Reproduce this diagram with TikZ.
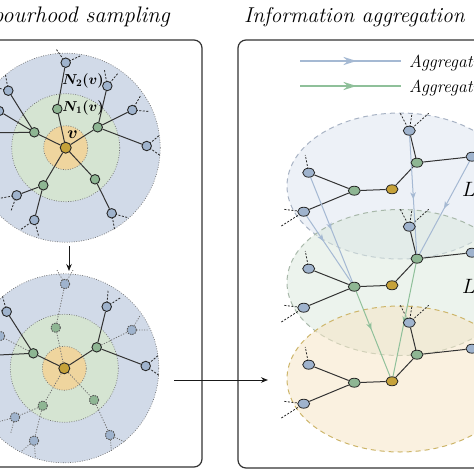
\documentclass[tikz,border=0pt]{standalone}
\usepackage{amsmath}
\usetikzlibrary{shapes.geometric,arrows.meta,decorations.markings}
\definecolor{nblue}{HTML}{9FB3CD}
\definecolor{ngreen}{HTML}{8EB693}
\definecolor{nyel}{HTML}{C6A23A}
\definecolor{discB}{HTML}{D1DAE8}
\definecolor{discG}{HTML}{D5E4D2}
\definecolor{discO}{HTML}{EFD59E}
\definecolor{edgec}{HTML}{333333}
\definecolor{arrB}{HTML}{A5B9D3}
\definecolor{arrG}{HTML}{8FC09A}
\definecolor{lay1}{HTML}{DEE5F0}
\definecolor{lay2}{HTML}{DCE9DE}
\definecolor{lay3}{HTML}{F6E6C6}
\definecolor{lay1b}{HTML}{A8B3C4}
\definecolor{lay2b}{HTML}{A8B8AA}
\definecolor{lay3b}{HTML}{CDB56A}
\pgfdeclarelayer{back}
\pgfdeclarelayer{mid}
\pgfsetlayers{back,mid,main}
\tikzset{
  nd/.style={circle,draw=black!85,line width=0.9pt,inner sep=0pt,minimum size=9.5pt},
  bn/.style={nd,fill=nblue},
  gn/.style={nd,fill=ngreen},
  yn/.style={nd,fill=nyel,minimum size=11pt},
  dbn/.style={bn,draw=black!65,dash pattern=on 1.5pt off 1pt},
  dgn/.style={gn,draw=black!65,dash pattern=on 1.5pt off 1pt},
  en/.style={ellipse,draw=black!85,line width=0.8pt,inner sep=0pt,minimum width=12pt,minimum height=9pt},
  ebn/.style={en,fill=nblue},
  egn/.style={en,fill=ngreen},
  eyn/.style={en,fill=nyel},
  edge/.style={draw=edgec,line width=1pt},
  stub/.style={draw=black!85,line width=0.8pt,dash pattern=on 2pt off 1.5pt},
  gstub/.style={draw=black!55,line width=0.8pt,dash pattern=on 1pt off 1.5pt},
  dedge/.style={draw=black!55,line width=0.8pt,dash pattern=on 1.2pt off 1.5pt},
  ring/.style={draw=black!55,line width=0.7pt,dash pattern=on 0.8pt off 1.6pt},
  panel/.style={draw=black!80,line width=1.2pt,rounded corners=8pt},
  midarr/.style={postaction={decorate,decoration={markings,mark=at position #1 with {\arrow{Stealth[length=7pt,width=5.5pt,inset=2pt]}}}}},
  legarr/.style={postaction={decorate,decoration={markings,mark=at position #1 with {\arrow{Stealth[length=13pt,width=8pt,inset=4pt]}}}}},
  arrline/.style={draw=#1,line width=1pt},
  mainarr/.style={draw=black!90,line width=1pt,-{Stealth[length=7pt,width=5.5pt]}},
  title/.style={font=\fontsize{21.5}{25}\selectfont\itshape,inner sep=0pt},
  legtext/.style={font=\fontsize{17.5}{21}\selectfont\itshape,inner sep=0pt},
  lab/.style={font=\fontsize{14}{16}\selectfont,inner sep=0pt}
}
\begin{document}
\begin{tikzpicture}[x=1pt,y=-1pt]
\useasboundingbox (0,0) rectangle (474,474);

% titles
\node[title,font=\fontsize{22.5}{26}\selectfont\itshape,anchor=base east] (t1) at (170,22) {Neighbourhood sampling};
\node[title,anchor=base west] (t2) at (244,22) {Information aggregation};

\begin{pgfonlayer}{back}
\draw[panel] (-30,40) rectangle (202,467);
\draw[panel] (238,40) rectangle (520,468);
\foreach \cx/\cy in {65.7/147.7, 64.3/368.3}{
  \filldraw[fill=discB,ring] (\cx,\cy) circle[radius=94.5pt];
  \filldraw[fill=discG,ring] (\cx,\cy) circle[radius=54pt];
  \filldraw[fill=discO,ring] (\cx,\cy) circle[radius=22pt];
}
\foreach \cy/\fc/\bc in {186/lay1/lay1b, 282.5/lay2/lay2b, 379/lay3/lay3b}{
  \fill[\fc,fill opacity=0.55] (400,\cy) ellipse[x radius=113pt,y radius=73pt];
  \draw[\bc,line width=1pt,dash pattern=on 5pt off 4pt] (400,\cy) ellipse[x radius=113pt,y radius=73pt];
}
\end{pgfonlayer}

% ---------- top neighbourhood graph ----------
\node[yn] (v1) at (65.7,147.7) {};
\node[gn] (gt) at (57.3,109) {};
\node[gn] (gr) at (97.7,127.3) {};
\node[gn] (gl) at (34.3,132.3) {};
\node[gn] (gll) at (43.3,185.3) {};
\node[gn] (glr) at (95,179.3) {};
\node[bn] (b1) at (65.7,62.7) {};
\node[bn] (b2) at (107.3,86) {};
\node[bn] (b3) at (132.3,110) {};
\node[bn] (b4) at (146.7,146) {};
\node[bn] (b5) at (111.7,213.3) {};
\node[bn] (b6) at (34.3,220) {};
\node[bn] (b7) at (16.7,195.3) {};
\node[bn] (b8) at (8.3,90.7) {};
\node[bn] (b9) at (-1,111) {};
\node[bn] (b10) at (-22,133) {};
\begin{pgfonlayer}{mid}
\draw[edge] (v1)--(gt) (v1)--(gr) (v1)--(gl) (v1)--(gll) (v1)--(glr);
\draw[edge] (gt)--(b1) (gr)--(b2) (gr)--(b3) (gr)--(b4) (glr)--(b5) (gll)--(b6) (gll)--(b7) (gl)--(b8) (gl)--(b9) (gl)--(b10);
\foreach \n/\a/\b in {b1/-125/-25, b2/-100/-50, b3/-60/5, b4/-40/35, b5/15/80, b6/75/145, b7/110/170, b8/-100/-165, b9/-130/180}{
  \draw[stub] (\n.center) -- ++(\a:17) (\n.center) -- ++(\b:17);
}
\end{pgfonlayer}
\node[lab,font=\fontsize{16}{18}\selectfont] (lv) at (72.5,135) {$\boldsymbol{v}$};
\node[lab] (ln1) at (83,108) {$\boldsymbol{N_1(v)}$};
\node[lab] (ln2) at (83,81) {$\boldsymbol{N_2(v)}$};

% ---------- bottom sampled graph ----------
\node[yn] (v2) at (64.3,368.3) {};
\node[gn] (hl) at (33.3,353.3) {};
\node[gn] (hr) at (96.7,347.3) {};
\node[dgn] (ht) at (55.7,327.7) {};
\node[dgn] (hll) at (42.7,405.7) {};
\node[dgn] (hlr) at (94,400) {};
\node[bn] (c1) at (106.7,306.7) {};
\node[bn] (c2) at (145.7,366) {};
\node[bn] (c3) at (6.7,311.7) {};
\node[bn] (c4) at (-22,356) {};
\node[dbn] (d1) at (65,284) {};
\node[dbn] (d2) at (131.7,330) {};
\node[dbn] (d3) at (15,417.3) {};
\node[dbn] (d4) at (34,440.7) {};
\node[dbn] (d5) at (110,435) {};
\node[dbn] (d6) at (0,336) {};
\begin{pgfonlayer}{mid}
\draw[edge] (v2)--(hl) (v2)--(hr) (hr)--(c1) (hr)--(c2) (hl)--(c3) (hl)--(c4);
\draw[dedge] (v2)--(ht) (v2)--(hll) (v2)--(hlr) (ht)--(d1) (hr)--(d2) (hll)--(d3) (hll)--(d4) (hlr)--(d5) (hl)--(d6);
\foreach \n/\a/\b in {c1/-85/-33, c2/-40/35, c3/-105/-165}{
  \draw[stub] (\n.center) -- ++(\a:17) (\n.center) -- ++(\b:17);
}
\foreach \n/\a/\b in {d1/-120/-60, d2/-60/0, d3/105/165, d4/85/140, d5/25/85, d6/-125/180}{
  \draw[gstub] (\n.center) -- ++(\a:17) (\n.center) -- ++(\b:17);
}
\end{pgfonlayer}

% vertical arrow
\coordinate (dA) at (69,246);
\coordinate (dB) at (69,271);
\draw[mainarr] (dA) -- (dB);
% horizontal arrow
\coordinate (hA) at (174,380);
\coordinate (hB) at (268,380);
\draw[mainarr] (hA) -- (hB);

% ---------- right: layered graphs ----------
\foreach \L/\dy in {1/0,2/96,3/192}{
  \node[eyn] (y\L) at (392,{189.3+\dy}) {};
  \node[egn] (ga\L) at (354.3,{190.7+\dy}) {};
  \node[egn] (gb\L) at (417,{162.7+\dy}) {};
  \node[ebn] (bt\L) at (409.3,{130.7+\dy}) {};
  \node[ebn] (br\L) at (472,{156.7+\dy}) {};
  \node[ebn] (bl\L) at (308.7,{172.7+\dy}) {};
  \node[ebn] (bd\L) at (303.7,{211.7+\dy}) {};
  \begin{pgfonlayer}{mid}
  \draw[edge] (y\L)--(ga\L) (y\L)--(gb\L) (ga\L)--(bl\L) (ga\L)--(bd\L) (gb\L)--(bt\L) (gb\L)--(br\L);
  \draw[stub] (bt\L.center) -- ++(-9,-17.4) (bt\L.center) -- ++(2.7,-17.4) (bt\L.center) -- ++(19.4,-17.4);
  \draw[stub] (bl\L.center) -- ++(-3.4,-17.7);
  \draw[stub] (bd\L.center) -- ++(-20,-2.4) (bd\L.center) -- ++(-23.4,15);
  \end{pgfonlayer}
}
\begin{pgfonlayer}{mid}
\draw[arrline=arrB,midarr=0.5] (bl1) -- (ga2);
\draw[arrline=arrB,midarr=0.38] (bd1) -- (ga2);
\draw[arrline=arrB,midarr=0.54] (bt1) -- (gb2);
\draw[arrline=arrB,midarr=0.51] (br1) -- (gb2);
\draw[arrline=arrG,midarr=0.45] (ga2) -- (y3);
\draw[arrline=arrG,midarr=0.53] (gb2) -- (y3);
\end{pgfonlayer}
\node[anchor=base west,inner sep=0pt,font=\fontsize{21}{24}\selectfont] (L1) at (462,196.5) {$L_1$};
\node[anchor=base west,inner sep=0pt,font=\fontsize{21}{24}\selectfont] (L2) at (462,293) {$L_2$};

% legend
\coordinate (la1) at (300,61);
\coordinate (la2) at (401,61);
\coordinate (lc1) at (300,86);
\coordinate (lc2) at (401,86);
\draw[arrB,line width=2pt,legarr=0.56] (la1) -- (la2);
\draw[arrG,line width=2pt,legarr=0.56] (lc1) -- (lc2);
\node[legtext,anchor=base west] (lt1) at (409,67) {Aggregation};
\node[legtext,anchor=base west] (lt2) at (409,92) {Aggregation};
\end{tikzpicture}
\end{document}
